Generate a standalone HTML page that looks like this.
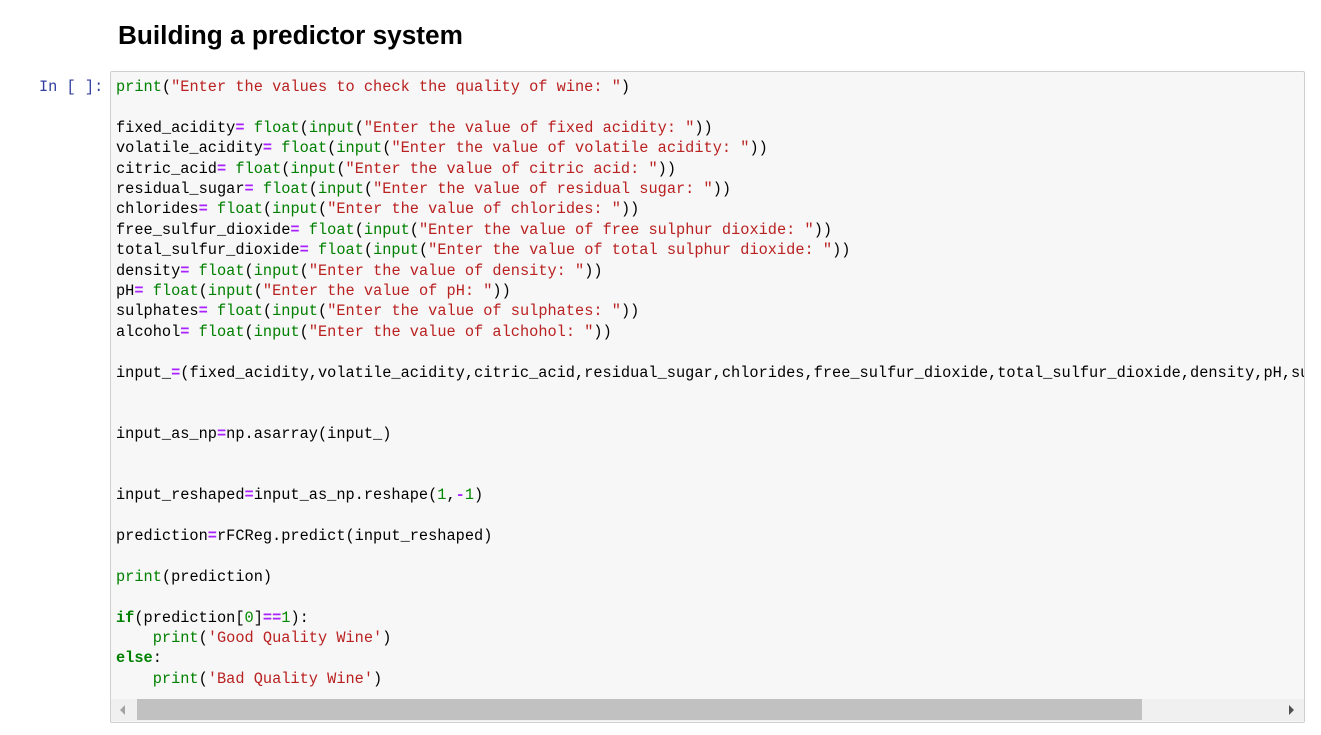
<!DOCTYPE html>
<html><head><meta charset="utf-8"><style>
body{margin:0;width:1321px;height:735px;background:#fff;position:relative;overflow:hidden;font-family:"Liberation Sans",sans-serif}
h1{position:absolute;left:118px;top:18px;margin:0;font-size:26.2px;font-weight:bold;color:#000;line-height:34px}
.prompt{position:absolute;left:39px;top:77px;font:15.3px/20.4px "Liberation Mono",monospace;color:#303F9F}
.box{position:absolute;left:110px;top:71px;width:1193px;height:650px;border:1px solid #cfcfcf;background:#f7f7f7;overflow:hidden;border-radius:2px}
pre{position:absolute;left:5px;top:5px;margin:0;font:15.3px/20.4px "Liberation Mono",monospace;color:#000;white-space:pre}
.g{color:#008000}.s{color:#BA2121}.o{color:#AA22FF;font-weight:bold}.k{color:#008000;font-weight:bold}.n{color:#080}
.sb{position:absolute;left:0;top:627px;width:1193px;height:22px;background:#f0f0f0}
.th{position:absolute;left:26px;top:627px;width:1005px;height:21px;background:#c1c1c1}
.al{position:absolute;left:9px;top:633px;width:0;height:0;border-top:5px solid transparent;border-bottom:5px solid transparent;border-right:5px solid #a3a3a3}
.ar{position:absolute;left:1178px;top:633px;width:0;height:0;border-top:5px solid transparent;border-bottom:5px solid transparent;border-left:5px solid #505050}
</style></head><body>
<h1>Building a predictor system</h1>
<div class="prompt">In [ ]:</div>
<div class="box">
<pre><span class="g">print</span>(<span class="s">"Enter the values to check the quality of wine: "</span>)

fixed_acidity<span class="o">=</span> <span class="g">float</span>(<span class="g">input</span>(<span class="s">"Enter the value of fixed acidity: "</span>))
volatile_acidity<span class="o">=</span> <span class="g">float</span>(<span class="g">input</span>(<span class="s">"Enter the value of volatile acidity: "</span>))
citric_acid<span class="o">=</span> <span class="g">float</span>(<span class="g">input</span>(<span class="s">"Enter the value of citric acid: "</span>))
residual_sugar<span class="o">=</span> <span class="g">float</span>(<span class="g">input</span>(<span class="s">"Enter the value of residual sugar: "</span>))
chlorides<span class="o">=</span> <span class="g">float</span>(<span class="g">input</span>(<span class="s">"Enter the value of chlorides: "</span>))
free_sulfur_dioxide<span class="o">=</span> <span class="g">float</span>(<span class="g">input</span>(<span class="s">"Enter the value of free sulphur dioxide: "</span>))
total_sulfur_dioxide<span class="o">=</span> <span class="g">float</span>(<span class="g">input</span>(<span class="s">"Enter the value of total sulphur dioxide: "</span>))
density<span class="o">=</span> <span class="g">float</span>(<span class="g">input</span>(<span class="s">"Enter the value of density: "</span>))
pH<span class="o">=</span> <span class="g">float</span>(<span class="g">input</span>(<span class="s">"Enter the value of pH: "</span>))
sulphates<span class="o">=</span> <span class="g">float</span>(<span class="g">input</span>(<span class="s">"Enter the value of sulphates: "</span>))
alcohol<span class="o">=</span> <span class="g">float</span>(<span class="g">input</span>(<span class="s">"Enter the value of alchohol: "</span>))

input_<span class="o">=</span>(fixed_acidity,volatile_acidity,citric_acid,residual_sugar,chlorides,free_sulfur_dioxide,total_sulfur_dioxide,density,pH,sulphates,alcohol)


input_as_np<span class="o">=</span>np.asarray(input_)


input_reshaped<span class="o">=</span>input_as_np.reshape(<span class="n">1</span>,<span class="o">-</span><span class="n">1</span>)

prediction<span class="o">=</span>rFCReg.predict(input_reshaped)

<span class="g">print</span>(prediction)

<span class="k">if</span>(prediction[<span class="n">0</span>]<span class="o">==</span><span class="n">1</span>):
    <span class="g">print</span>(<span class="s">'Good Quality Wine'</span>)
<span class="k">else</span>:
    <span class="g">print</span>(<span class="s">'Bad Quality Wine'</span>)</pre>
<div class="sb"></div><div class="th"></div><div class="al"></div><div class="ar"></div>
</div>
</body></html>
